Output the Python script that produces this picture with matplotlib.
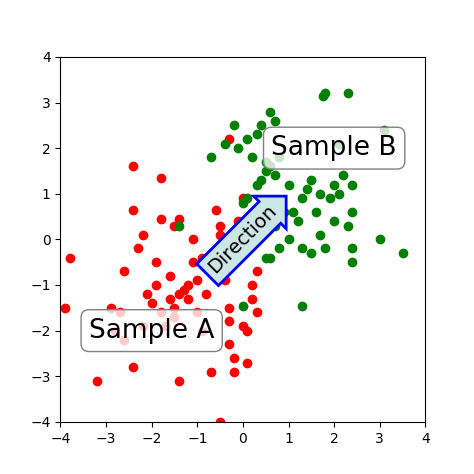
import matplotlib
matplotlib.use("Agg")
import matplotlib.pyplot as plt

red_x = [-3.8,-3.9,-3.2,-2.9,-2.7,-2.6,-2.4,-2.4,-2.3,-2.2,-2.1,-2.0,-1.9,-1.9,-1.8,-1.8,-1.8,-1.7,-1.6,-1.5,-1.5,-1.4,-1.4,-1.3,-1.2,-1.1,-1.0,-1.0,-0.9,-0.8,-0.7,-0.6,-0.6,-0.5,-0.5,-0.4,-0.3,-0.3,-0.3,-0.2,-0.3,-0.2,-0.5,-0.7,0.0,0.1,0.1,0.2,0.3,0.3,0.2,-1.4,-2.4,-1.5,-2.6,-1.2,-0.9,-1.1,0.0,-0.1,0.1,-1.6,-2.2,-2.8]
red_y = [-0.4,-1.5,-3.1,-1.5,-1.6,-0.7,0.65,1.6,-0.2,0.1,-1.2,-1.4,-0.5,-1.0,1.35,-1.6,0.45,-1.9,-0.8,-1.5,-1.7,0.45,-1.2,-1.1,-1.3,-0.5,-0.9,-1.6,-2.0,-1.2,-0.6,-0.3,0.65,0.3,0.1,-0.9,-1.5,-1.8,-2.3,-2.9,2.2,-2.6,-4.0,-2.9,-1.9,-2.0,-2.7,-1.3,-0.7,-1.6,-1.0,-3.1,-2.8,0.3,-2.2,-1.0,-0.4,0.0,0.9,0.4,0.2,-1.3,-1.9,-2.0]
green_x = [-0.7,-0.4,-0.1,-0.2,0.1,0.3,0.4,0.6,0.7,0.2,0.4,0.5,0.6,0.7,0.0,0.1,0.3,0.0,0.5,0.6,0.7,1.0,1.0,1.1,1.2,1.3,1.3,1.5,1.6,1.7,1.7,1.8,1.8,1.75,1.9,2.0,2.0,2.1,2.2,2.3,2.3,2.4,2.4,2.4,2.4,2.1,3.0,3.5,3.1,1.3,0.0,-1.4,0.5,0.8,1.5,1.4,0.9,0.8]
green_y = [1.8,2.1,2.0,2.5,2.2,2.3,2.5,2.8,2.6,1.8,1.3,1.5,1.6,1.4,0.8,0.9,1.2,-0.1,-0.4,-0.4,0.3,0.0,1.2,0.6,0.4,0.9,-0.2,-0.3,0.6,1.0,0.1,-0.2,3.2,3.15,0.9,1.2,0.4,1.0,1.4,3.2,0.3,1.2,0.6,-0.5,-0.2,2.1,0.0,-0.3,2.4,-1.45,-1.45,0.3,1.7,1.8,1.3,1.1,0.6,-0.2]

fig = plt.figure(figsize=(4.74, 4.74), dpi=100)
ax = fig.add_subplot(111)
ax.plot(red_x, red_y, "o", color="r")
ax.plot(green_x, green_y, "o", color="g")
ax.set_xlim(-4, 4)
ax.set_ylim(-4, 4)
ax.set_aspect(1)

bbox_props = dict(boxstyle="round", fc=(1, 1, 1, 0.8), ec=(0.5, 0.5, 0.5))
ax.text(-2, -2, "Sample A", ha="center", va="center", size=19, bbox=bbox_props)
ax.text(2, 2, "Sample B", ha="center", va="center", size=19, bbox=bbox_props)
ax.text(0, 0, "Direction", ha="center", va="center", rotation=45, size=14,
        bbox=dict(boxstyle="rarrow,pad=0.3", fc=(0.8, 0.9, 0.9), ec="b", lw=2))
fig.savefig("out.png", dpi=100)
